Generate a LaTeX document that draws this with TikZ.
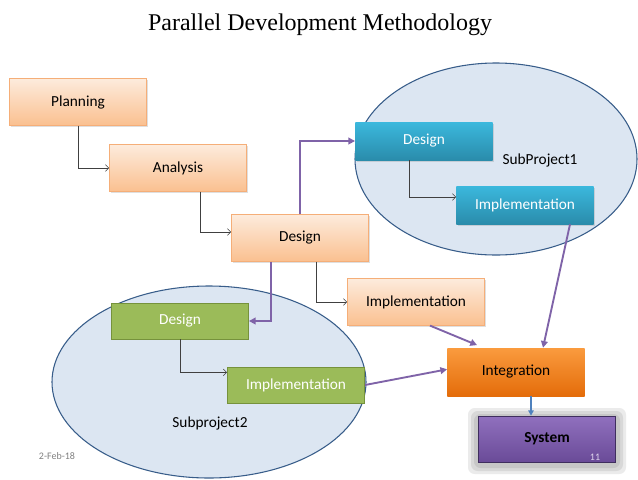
\documentclass[tikz,border=0pt]{standalone}
\usepackage{fontspec}
\setmainfont{Carlito}
\newfontfamily\titlefont{Liberation Serif}
\usetikzlibrary{arrows.meta,shadows}

\definecolor{peachtop}{HTML}{FDEBDC}
\definecolor{peachbot}{HTML}{FAC090}
\definecolor{peachline}{HTML}{F5AE78}
\definecolor{tealtop}{HTML}{3BB8DD}
\definecolor{tealbot}{HTML}{2A8CAB}
\definecolor{leaf}{HTML}{9BBB59}
\definecolor{leafline}{HTML}{76923C}
\definecolor{ambertop}{HTML}{FA9B3E}
\definecolor{amberbot}{HTML}{E46C0A}
\definecolor{plumtop}{HTML}{9070BE}
\definecolor{plumbot}{HTML}{6A4B98}
\definecolor{plumline}{HTML}{3F2E5E}
\definecolor{cloudfill}{HTML}{DCE6F2}
\definecolor{cloudline}{HTML}{385D8A}
\definecolor{flowline}{HTML}{7F63A8}
\definecolor{steel}{HTML}{4F81BD}

\begin{document}
\begin{tikzpicture}[x=0.75pt, y=-0.75pt,
    % Base style for every box
    box/.style={rectangle, minimum width=103pt, inner sep=0pt, font=\fontsize{11.5}{13}\selectfont},
    % Main line boxes (peach)
    peach/.style={box, minimum height=35pt, top color=peachtop, bottom color=peachbot, draw=peachline,
        drop shadow={shadow xshift=1.2pt, shadow yshift=-1.2pt, opacity=0.25}},
    % Subproject 1 boxes (teal)
    teal/.style={box, minimum height=28.5pt, top color=tealtop, bottom color=tealbot, text=white,
        drop shadow={shadow xshift=1.2pt, shadow yshift=-1.2pt, opacity=0.25}},
    % Subproject 2 boxes (green)
    leafbox/.style={box, minimum height=27pt, fill=leaf, draw=leafline, text=white},
    % Subproject areas
    cloud/.style={fill=cloudfill, draw=cloudline, thick},
    % Thin arrows inside a line of work
    link/.style={-{Straight Barb[length=2.5pt, width=5pt]}, draw=black!75, thin},
    % Thick arrows between lines of work
    flow/.style={-{Triangle[length=5pt, width=5pt]}, draw=flowline, line width=1.4pt}
]

\fill[white] (0,0) rectangle (638,479);
\useasboundingbox (0,0) rectangle (638,479);

% Title
\node[font=\titlefont\fontsize{18}{21}\selectfont] (title) at (320,25) {Parallel Development Methodology};

% Subproject areas
\draw[cloud] (496,159) ellipse [x radius=105.75pt, y radius=72pt];
\draw[cloud] (209,382) ellipse [x radius=117.75pt, y radius=72pt];
\node[font=\fontsize{11.5}{13}\selectfont] (sp1) at (540,160) {SubProject1};
\node[font=\fontsize{11.5}{13}\selectfont] (sp2) at (210,423) {Subproject2};

% Main line
\node[peach] (plan) at (78,102) {Planning};
\node[peach] (ana) at (178,168) {Analysis};
\node[peach] (des) at (300,238) {Design};
\node[peach] (imp) at (416,302) {Implementation};

% Subproject 1
\node[teal] (des1) at (424,141) {Design};
\node[teal] (imp1) at (525,205) {Implementation};

% Subproject 2
\node[leafbox] (des2) at (180,321) {Design};
\node[leafbox] (imp2) at (296,385) {Implementation};

% Integration and system
\node[box, minimum height=36pt, top color=ambertop, bottom color=amberbot] (intg) at (516,372) {Integration};
\foreach \g in {10,7,4}
    \fill[black, opacity=0.08, rounded corners=5pt] (478-\g,418-\g) rectangle (616+\g,464+\g);
\node[box, minimum height=34.5pt, top color=plumtop, bottom color=plumbot, draw=plumline,
    font=\fontsize{11.5}{13}\selectfont\bfseries] (sys) at (547,439) {System};

% Thin arrows
\draw[link] (plan.south) |- (ana.west);
\draw[link] ([xshift=16.5pt]ana.south) |- ([yshift=4.5pt]des.west);
\draw[link] ([xshift=12pt]des.south) |- (imp.west);
\draw[link] ([xshift=-11.25pt]des1.south) |- ([yshift=6pt]imp1.west);
\draw[link] (des2.south) |- ([yshift=9.5pt]imp2.west);

% Thick arrows
\draw[flow] (des.north) |- (des1.west);
\draw[flow] ([xshift=-21.75pt]des.south) |- (des2.east);
\draw[flow] ([xshift=33.75pt]imp1.south) -- ([xshift=20.25pt]intg.north);
\draw[flow] ([xshift=10.5pt]imp.south) -- ([xshift=-29.25pt, yshift=2pt]intg.north);
\draw[flow] (imp2.east) -- ([yshift=2pt]intg.west);
\draw[-{Triangle[length=4pt, width=4pt]}, draw=steel, line width=1.4pt]
    ([xshift=11.25pt]intg.south) -- ([xshift=11.25pt]intg.south |- sys.north);

% Footer
\node[font=\fontsize{7.5}{9}\selectfont, text=black!50] (date) at (57,456) {2-Feb-18};
\node[font=\fontsize{7.5}{9}\selectfont, text=white!70!plumtop] (page) at (595,457) {11};

\end{tikzpicture}
\end{document}
